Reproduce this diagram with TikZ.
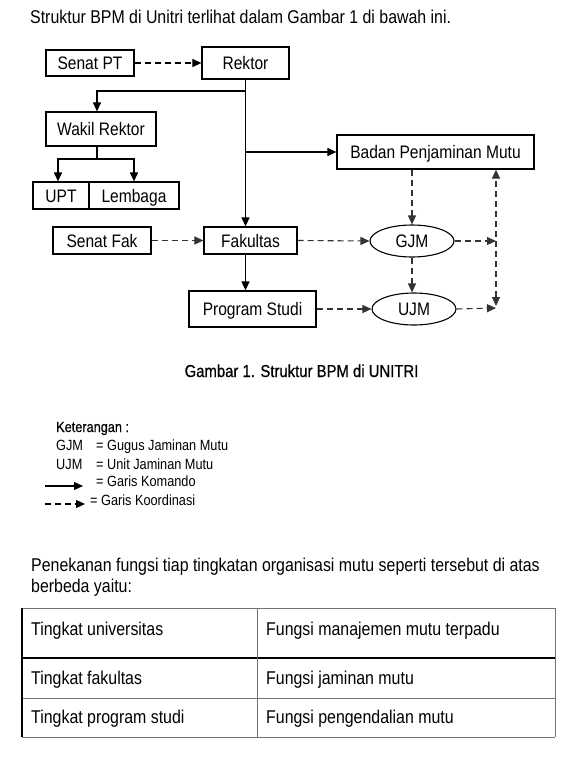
\documentclass[tikz,border=0pt]{standalone}
\usepackage{fontspec}
\setmainfont{Liberation Sans}[FakeStretch=0.86]
\newfontfamily\capfont{Liberation Sans}[FakeStretch=0.86,FakeBold=0.6]
\usetikzlibrary{arrows.meta,shapes.geometric}
\begin{document}
\begin{tikzpicture}[x=1pt,y=-1pt,
  box/.style={draw,line width=1.2pt,inner sep=0pt,text height=14.5pt,text depth=1.5pt,font=\fontsize{18.1}{21}\selectfont},
  oval/.style={draw,ellipse,line width=1.1pt,inner sep=0pt,minimum width=84pt,minimum height=32pt,text height=14.5pt,text depth=1.5pt,font=\fontsize{18.1}{21}\selectfont},
  tip/.tip={Triangle[length=9pt,width=8pt]},
  cmd/.style={line width=1.1pt,-tip},
  cmdline/.style={line width=1.1pt},
  crd/.style={line width=1.1pt,draw=black!80,dash pattern=on 6pt off 4pt,-tip},
  txt/.style={anchor=base west,inner sep=0pt,font=\fontsize{18.5}{22}\selectfont},
  leg/.style={anchor=base west,inner sep=0pt,font=\fontsize{14.8}{17}\selectfont},
  tline/.style={line width=1pt,draw=black!55},
  tlinedark/.style={line width=1.2pt,draw=black}]
\useasboundingbox (0,0) rectangle (577,758);

% heading
\node[txt] (title) at (30,23) {Struktur BPM di Unitri terlihat dalam Gambar 1 di bawah ini.};

% boxes
\node[box,minimum width=88pt,minimum height=26pt] (senatpt) at (90,63) {Senat PT};
\node[box,minimum width=87pt,minimum height=32pt] (rektor) at (245.5,63) {Rektor};
\node[box,minimum width=110pt,minimum height=34pt] (wakil) at (101,129) {Wakil Rektor};
\node[box,minimum width=56pt,minimum height=27pt] (upt) at (61,195.5) {UPT};
\node[box,minimum width=90pt,minimum height=27pt] (lembaga) at (134,195.5) {Lembaga};
\node[box,minimum width=197pt,minimum height=34pt] (bpm) at (435.5,152) {Badan Penjaminan Mutu};
\node[box,minimum width=98pt,minimum height=27pt] (senatfak) at (102,240.5) {Senat Fak};
\node[box,minimum width=93pt,minimum height=27pt] (fakultas) at (250.5,240.5) {Fakultas};
\node[box,minimum width=127pt,minimum height=36pt] (prodi) at (252.5,309) {Program Studi};
\node[oval] (gjm) at (412,241) {GJM};
\node[oval] (ujm) at (414,309) {UJM};

% command lines
\coordinate (j1) at (245.5,91);
\coordinate (j2) at (97,159);
\draw[cmd] (rektor.south) -- (fakultas.north -| rektor.south);
\draw[cmd] (j1) -| ([xshift=-4pt]wakil.north);
\draw[cmdline] ([xshift=-4pt]wakil.south) -- (j2);
\draw[cmd] (j2) -| ([xshift=-3pt]upt.north);
\draw[cmd] (j2) -| (lembaga.north);
\draw[cmd] (bpm.west -| rektor.south) -- (bpm.west);
\draw[cmd] (fakultas.south -| rektor.south) -- (prodi.north -| rektor.south);

% coordination lines
\coordinate (r1) at (496,241);
\coordinate (r2) at (496,308);
\coordinate (r3) at (496,306);
\draw[crd,draw=black] (senatpt.east) -- (senatpt.east -| rektor.west);
\draw[crd] (senatfak.east) -- (fakultas.west);
\draw[crd] (fakultas.east) -- (gjm.west);
\draw[crd] (prodi.east) -- (ujm.west);
\draw[crd] (bpm.south -| gjm.north) -- (gjm.north);
\draw[crd] (gjm.south) -- (ujm.north -| gjm.south);
\draw[crd] (gjm.east) -- (r1);
\draw[crd] (ujm.east) -- (r2);
\draw[crd,tip-tip] (r3) -- (bpm.south -| r3);

% caption
\node[anchor=base,inner sep=0pt,font=\capfont\fontsize{17.3}{20}\selectfont] (cap) at (301.5,377) {Gambar 1. Struktur BPM di UNITRI};

% legend
\node[leg,font=\capfont\fontsize{14.8}{17}\selectfont] (ket) at (56,432) {Keterangan :};
\node[leg] (lg1) at (56,450) {GJM};
\node[leg] (lg1t) at (96,450) {= Gugus Jaminan Mutu};
\node[leg] (lg2) at (56,469) {UJM};
\node[leg] (lg2t) at (96,469) {= Unit Jaminan Mutu};
\coordinate (la1) at (45,486);
\coordinate (la2) at (83,486);
\coordinate (lb1) at (45,504);
\coordinate (lb2) at (85,504);
\draw[cmd] (la1) -- (la2);
\draw[crd,draw=black] (lb1) -- (lb2);
\node[leg] (lg3t) at (96,486) {= Garis Komando};
\node[leg] (lg4t) at (90,505) {= Garis Koordinasi};

% paragraph
\node[txt] (p1) at (31,571) {Penekanan fungsi tiap tingkatan organisasi mutu seperti tersebut di atas};
\node[txt] (p2) at (31,592) {berbeda yaitu:};

% table
\draw[tline] (22,608) -- (555,608);
\draw[tlinedark] (22,658) -- (555,658);
\draw[tline] (22,698) -- (555,698);
\draw[tline] (22,737) -- (555,737);
\draw[tlinedark] (22,608) -- (22,737);
\draw[tline] (257,608) -- (257,737);
\draw[tline] (555,608) -- (555,737);
\node[txt] (c11) at (31,635) {Tingkat universitas};
\node[txt] (c12) at (266,635) {Fungsi manajemen mutu terpadu};
\node[txt] (c21) at (31,684) {Tingkat fakultas};
\node[txt] (c22) at (266,684) {Fungsi jaminan mutu};
\node[txt] (c31) at (31,723) {Tingkat program studi};
\node[txt] (c32) at (266,723) {Fungsi pengendalian mutu};
\end{tikzpicture}
\end{document}
